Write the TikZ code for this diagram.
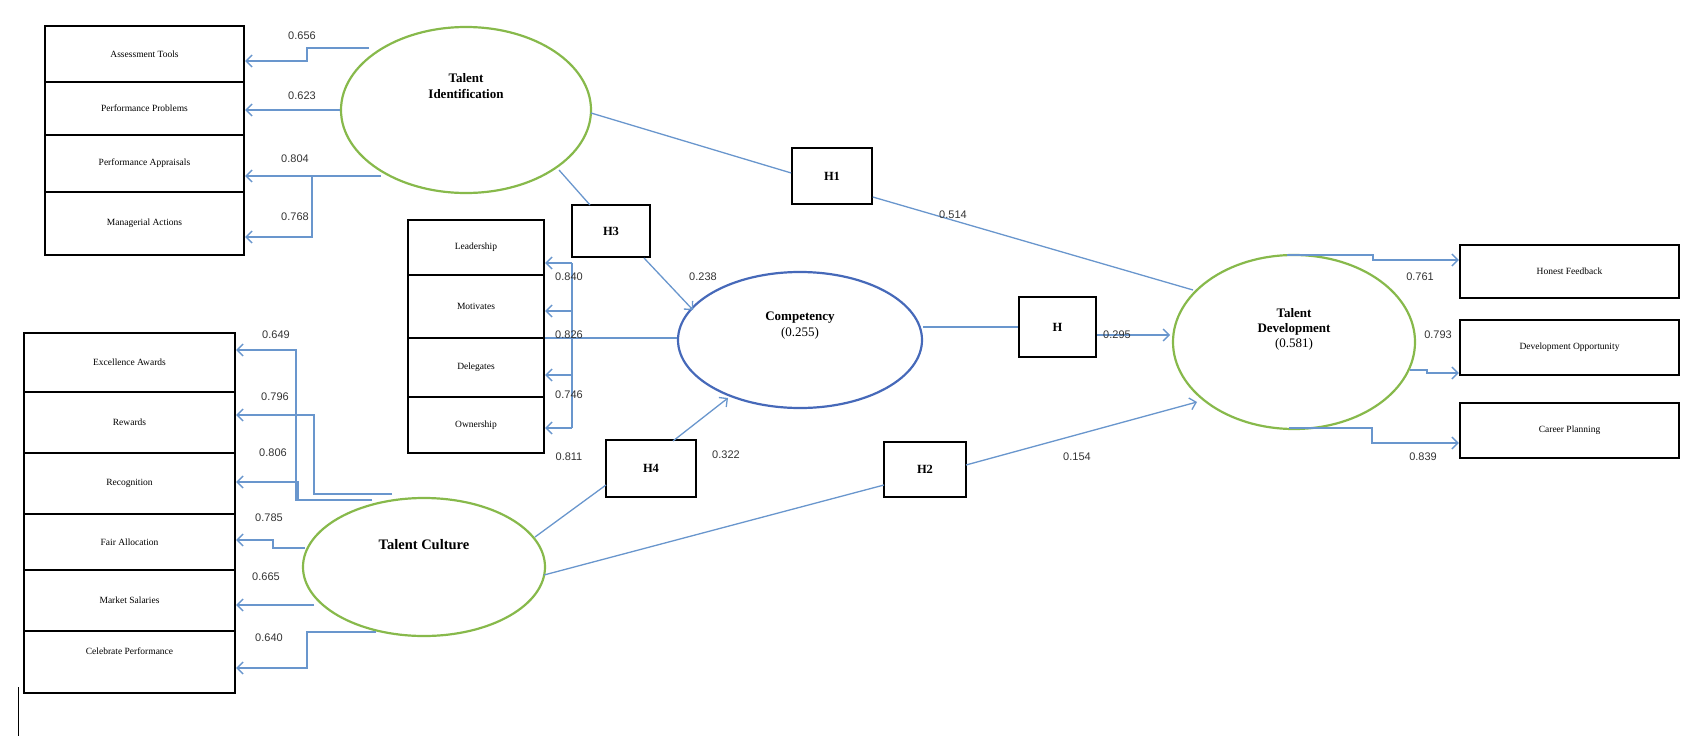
\documentclass[tikz,border=0pt]{standalone}
\usepackage{fontspec}
\setmainfont{Liberation Serif}
\newfontfamily\numfont{Liberation Sans}
\usetikzlibrary{arrows.meta,shapes.geometric}
\definecolor{lblue}{RGB}{105,150,205}
\definecolor{cblue}{RGB}{70,105,185}
\definecolor{lgreen}{RGB}{135,185,75}
\tikzset{
 ibox/.style={draw=black,line width=2.4pt,rectangle,inner sep=0pt,font=\fontsize{9.5}{11}\selectfont},
 hbox/.style={draw=black,line width=1.6pt,rectangle,inner sep=0pt,font=\fontsize{12.5}{14}\selectfont\bfseries},
 lat/.style={draw=lgreen,line width=2.2pt,ellipse,inner sep=0pt},
 lattext/.style={font=\fontsize{13}{16}\selectfont\bfseries,align=center},
 num/.style={font=\numfont\fontsize{11}{12}\selectfont,text=black!80},
 ln/.style={draw=lblue,line width=1.3pt},
 arr/.style={ln,-{Straight Barb[length=6pt,width=12pt]}},
}
\begin{document}
\begin{tikzpicture}[x=1pt,y=-1pt]
\useasboundingbox (0,0) rectangle (1687,736);
% TL indicators
\node[ibox,minimum width=199pt,minimum height=56pt] (at) at (144.5,54) {Assessment Tools};
\node[ibox,minimum width=199pt,minimum height=53pt] (pp) at (144.5,108.5) {Performance Problems};
\node[ibox,minimum width=199pt,minimum height=57pt] (pa) at (144.5,163.5) {Performance Appraisals};
\node[ibox,minimum width=199pt,minimum height=63pt] (ma) at (144.5,223.5) {Managerial Actions};
% competency indicators
\node[ibox,minimum width=136pt,minimum height=55pt] (le) at (476,247.5) {Leadership};
\node[ibox,minimum width=136pt,minimum height=63pt] (mo) at (476,306.5) {Motivates};
\node[ibox,minimum width=136pt,minimum height=59pt] (de) at (476,367.5) {Delegates};
\node[ibox,minimum width=136pt,minimum height=56pt] (ow) at (476,425) {Ownership};
% BL indicators
\node[ibox,minimum width=211pt,minimum height=59pt] (ea) at (129.5,362.5) {Excellence Awards};
\node[ibox,minimum width=211pt,minimum height=61pt] (rw) at (129.5,422.5) {Rewards};
\node[ibox,minimum width=211pt,minimum height=61pt] (rc) at (129.5,483.5) {Recognition};
\node[ibox,minimum width=211pt,minimum height=56pt] (fa) at (129.5,542) {Fair Allocation};
\node[ibox,minimum width=211pt,minimum height=61pt] (ms) at (129.5,600.5) {Market Salaries};
\node[ibox,minimum width=211pt,minimum height=62pt,text depth=22pt] (cp) at (129.5,662) {Celebrate Performance};
% right indicators
\node[ibox,minimum width=219pt,minimum height=53pt] (hf) at (1569.5,271.5) {Honest Feedback};
\node[ibox,minimum width=219pt,minimum height=55pt] (dop) at (1569.5,347.5) {Development Opportunity};
\node[ibox,minimum width=219pt,minimum height=55pt] (cpl) at (1569.5,430.5) {Career Planning};
% hypothesis boxes
\node[hbox,minimum width=78pt,minimum height=52pt] (h3) at (611,231) {H3};
\node[hbox,minimum width=80pt,minimum height=56pt] (h1) at (832,176) {H1};
\node[hbox,minimum width=77pt,minimum height=60pt] (h) at (1057.5,327) {H};
\node[hbox,minimum width=90pt,minimum height=57pt] (h4) at (651,468.5) {H4};
\node[hbox,minimum width=82pt,minimum height=55pt] (h2) at (925,469.5) {H2};
% latent variables
\node[lat,minimum width=250pt,minimum height=166pt] (ti) at (466,110) {};
\node[lattext] at (466,86) {Talent\\Identification};
\node[lat,draw=cblue,minimum width=244pt,minimum height=136pt] (co) at (800,340) {};
\node[lattext,font=\fontsize{13}{16}\selectfont] at (800,326) {\textbf{Competency}\\(0.255)};
\node[lat,minimum width=242pt,minimum height=174pt] (td) at (1294,342) {};
\node[lattext,font=\fontsize{13}{15}\selectfont] at (1294,329) {\textbf{Talent}\\\textbf{Development}\\(0.581)};
\node[lat,minimum width=242pt,minimum height=138pt] (tc) at (424,567) {};
\node[lattext,font=\fontsize{14.5}{16}\selectfont\bfseries] at (424,545) {Talent Culture};
% TI loadings
\coordinate (b1) at (307,48);
\draw[arr] (369,48) -- (b1) -- (b1|-0,61) -- (at.east|-0,61);
\draw[arr] (ti.west) -- (pp.east|-ti.west);
\coordinate (b2) at (312,176);
\draw[arr] (381,176) -- (pa.east|-0,176);
\draw[arr] (b2) -- (b2|-0,237) -- (ma.east|-0,237);
\node[num] at (302,36) {0.656};
\node[num] at (302,96) {0.623};
\node[num] at (295,159) {0.804};
\node[num] at (295,217) {0.768};
% competency loadings
\coordinate (cv) at (572,338);
\draw[ln] (co.west|-cv) -- (cv);
\draw[ln] (572,263) -- (572,428);
\draw[arr] (572,263) -- (le.east|-0,263);
\draw[arr] (572,311) -- (mo.east|-0,311);
\draw[arr] (572,375) -- (de.east|-0,375);
\draw[arr] (572,428) -- (ow.east|-0,428);
\draw[ln] (cv) -- (le.east|-cv);
\node[num] at (569,277) {0.840};
\node[num] at (569,335) {0.826};
\node[num] at (569,395) {0.746};
\node[num] at (569,457) {0.811};
% TC loadings
\draw[arr] (372,500) -- (296,500) -- (296,350) -- (ea.east|-0,350);
\draw[arr] (392,494) -- (314,494) -- (314,415) -- (rw.east|-0,415);
\draw[arr] (298,500) -- (298,482) -- (rc.east|-0,482);
\draw[arr] (305,548) -- (273,548) -- (273,540) -- (fa.east|-0,540);
\draw[arr] (314,605) -- (ms.east|-0,605);
\draw[arr] (376,632) -- (307,632) -- (307,668) -- (cp.east|-0,668);
\node[num] at (276,335) {0.649};
\node[num] at (275,397) {0.796};
\node[num] at (273,453) {0.806};
\node[num] at (269,518) {0.785};
\node[num] at (266,577) {0.665};
\node[num] at (269,638) {0.640};
% TD loadings
\draw[arr] (1287,255) -- (1373,255) -- (1373,260) -- (hf.west|-0,260);
\draw[arr] (1410,370) -- (1427,370) -- (1427,373) -- (dop.west|-0,373);
\draw[arr] (1289,428) -- (1372,428) -- (1372,443) -- (cpl.west|-0,443);
\node[num] at (1420,277) {0.761};
\node[num] at (1438,335) {0.793};
\node[num] at (1423,457) {0.839};
% structural paths
\draw[ln] (591,113) -- (h1.west|-0,173);
\draw[ln] (h1.east|-0,197) -- (1193,290);
\draw[ln] (559,170) -- (590,205);
\draw[arr] (644,258) -- (693,310);
\draw[ln] (co.east|-0,327) -- (h.west|-0,327);
\draw[arr] (h.east|-0,335) -- (1170,335);
\draw[ln] (535,537) -- (606,485);
\draw[arr] (673,441) -- (728,398);
\draw[ln] (544,575) -- (884,485);
\draw[arr] (966,465) -- (1197,402);
\node[num] at (953,215) {0.514};
\node[num] at (703,277) {0.238};
\node[num] at (1117,335) {0.295};
\node[num] at (726,455) {0.322};
\node[num] at (1077,457) {0.154};
% stray line
\draw[black,line width=1pt] (18,687) -- (18,736);
\end{tikzpicture}
\end{document}
